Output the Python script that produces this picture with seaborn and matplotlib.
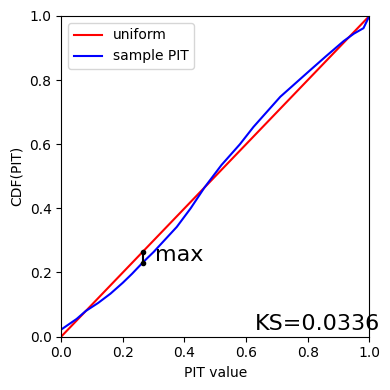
import numpy as np
import pandas as pd
import matplotlib
matplotlib.use("Agg")
import matplotlib.pyplot as plt
import seaborn as sns

# uniform reference cdf
uni_x = [0.0, 1.0]
uni_y = [0.0, 1.0]

# sample PIT cdf
pit_x = [0.0, 0.05, 0.08, 0.12, 0.16, 0.20, 0.23, 0.264, 0.30, 0.375, 0.42, 0.465,
         0.52, 0.58, 0.624, 0.711, 0.808, 0.86, 0.917, 0.95, 0.981, 1.0]
pit_y = [0.022, 0.055, 0.08, 0.105, 0.134, 0.168, 0.196, 0.2304, 0.264, 0.342, 0.40, 0.465,
         0.535, 0.60, 0.654, 0.748, 0.831, 0.875, 0.922, 0.945, 0.962, 1.0]

# location of the max distance
ks_x = 0.264
ks_val = 0.0336

df_uni = pd.DataFrame({"x": uni_x, "y": uni_y})
df_pit = pd.DataFrame({"x": pit_x, "y": pit_y})

fig, ax = plt.subplots(figsize=(3.9, 3.9), dpi=100)
sns.lineplot(data=df_uni, x="x", y="y", color="r", label="uniform", ax=ax, sort=False)
sns.lineplot(data=df_pit, x="x", y="y", color="b", label="sample PIT", ax=ax, sort=False)

ax.plot([ks_x, ks_x], [ks_x - ks_val, ks_x], "k.-", markersize=6, linewidth=1.5)
ax.text(ks_x + 0.04, ks_x - ks_val / 2 + 0.008, "max", fontsize=16, va="center")
ax.text(0.628, 0.022, "KS=%.4f" % ks_val, fontsize=16)

ax.set_xlim(0, 1)
ax.set_ylim(0, 1)
ax.set_xlabel("PIT value")
ax.set_ylabel("CDF(PIT)")
ax.legend(loc="upper left")

fig.subplots_adjust(left=0.157, right=0.947, bottom=0.137, top=0.959)
fig.savefig("out.png", dpi=100)
